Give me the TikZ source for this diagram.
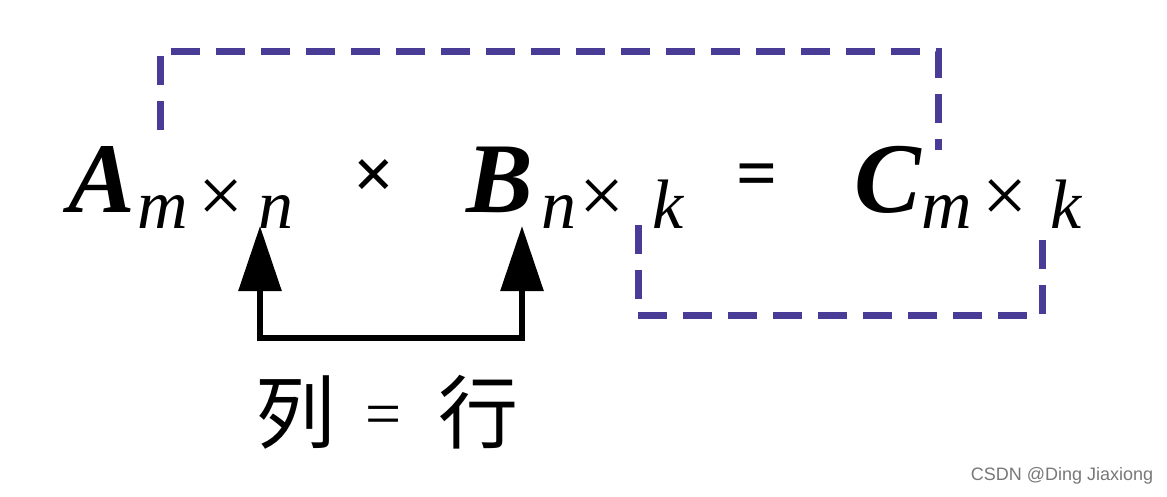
\documentclass[tikz,border=0pt]{standalone}
\usepackage{fontspec}
\setmainfont{Liberation Serif}
\newfontfamily\cjk{Noto Sans CJK SC}
\newfontfamily\wmfont{Liberation Sans}
\usetikzlibrary{arrows.meta}
\definecolor{dashblue}{RGB}{72,60,150}
\definecolor{wmgray}{RGB}{120,120,120}
\begin{document}
\begin{tikzpicture}[x=1pt,y=-1pt,
  big/.style={font=\fontsize{100}{100}\selectfont\bfseries\itshape, inner sep=0pt, anchor=base},
  subi/.style={font=\fontsize{70}{70}\selectfont\itshape, inner sep=0pt, anchor=base},
  subx/.style={font=\fontsize{80}{80}\selectfont, inner sep=0pt, anchor=center},
  op/.style={font=\fontsize{72}{72}\selectfont\bfseries, inner sep=0pt, anchor=center},
  cjktext/.style={font=\fontsize{80}{80}\selectfont\cjk, inner sep=0pt, anchor=center},
  dashbox/.style={draw=dashblue, line width=7pt, dash pattern=on 29pt off 16pt},
  arrowline/.style={draw=black, line width=6pt,
    {Triangle[length=65pt,width=42pt]}-{Triangle[length=65pt,width=42pt]}}
]
\fill[white] (0,0) rectangle (1167,496);
\useasboundingbox (0,0) rectangle (1167,496);

% matrices
\node[big] (A) at (102,212) {A};
\node[subi] (Am) at (163,228) {m};
\node[subx] (Ax) at (221,201) {×};
\node[subi] (An) at (276,228) {n};

\node[op] (times) at (374,179) {×};

\node[big] (B) at (500,212) {B};
\node[subi] (Bn) at (559,228) {n};
\node[subx] (Bx) at (602,201) {×};
\node[subi] (Bk) at (668,228) {k};

\node[op] (eq) at (757,181) {=};

\node[big] (C) at (888,212) {C};
\node[subi] (Cm) at (947,228) {m};
\node[subx] (Cx) at (1005,201) {×};
\node[subi] (Ck) at (1066,228) {k};

% dashed brackets
\coordinate (t1) at (160,130);
\coordinate (t2) at (160,51);
\coordinate (t3) at (938,51);
\coordinate (t4) at (938,150);
\draw[dashbox] (t1) -- (t2) -- (t3) -- (t4);

\coordinate (b1) at (638,225);
\coordinate (b2) at (638,315);
\coordinate (b3) at (1042,315);
\coordinate (b4) at (1042,227);
\draw[dashbox] (b1) -- (b2) -- (b3) -- (b4);

% arrows
\coordinate (tipA) at (260,226);
\coordinate (tipB) at (522,226);
\coordinate (cA) at (260,338);
\coordinate (cB) at (522,338);
\draw[arrowline] (tipA) -- (cA) -- (cB) -- (tipB);

% label
\node[cjktext] (lie) at (295,412) {列};
\node[font=\fontsize{64}{64}\selectfont, inner sep=0pt] (eq2) at (384,421) {=};
\node[cjktext] (hang) at (478,412) {行};

% watermark
\node[font=\fontsize{18}{18}\selectfont\wmfont, text=wmgray, inner sep=0pt] (wm) at (1062,476) {CSDN @Ding Jiaxiong};
\end{tikzpicture}
\end{document}
